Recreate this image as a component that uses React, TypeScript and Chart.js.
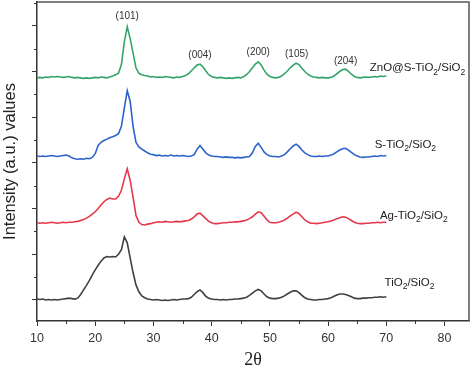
import React, { useEffect, useRef } from "react";
import { Chart, registerables } from "chart.js";

Chart.register(...registerables);

// 2θ sampling positions (degrees)
const twoTheta: number[] = [
  10, 10.5, 11, 11.5, 12, 12.5, 13, 13.5, 14, 14.5,
  15, 15.5, 16, 16.5, 17, 17.5, 18, 18.5, 19, 19.5,
  20, 20.5, 21, 21.5, 22, 22.5, 23, 23.5, 24, 24.5,
  25, 25.5, 26, 26.5, 27, 27.5, 28, 28.5, 29, 29.5,
  30, 30.5, 31, 31.5, 32, 32.5, 33, 33.5, 34, 34.5,
  35, 35.5, 36, 36.5, 37, 37.5, 38, 38.5, 39, 39.5,
  40, 40.5, 41, 41.5, 42, 42.5, 43, 43.5, 44, 44.5,
  45, 45.5, 46, 46.5, 47, 47.5, 48, 48.5, 49, 49.5,
  50, 50.5, 51, 51.5, 52, 52.5, 53, 53.5, 54, 54.5,
  55, 55.5, 56, 56.5, 57, 57.5, 58, 58.5, 59, 59.5,
  60, 60.5, 61, 61.5, 62, 62.5, 63, 63.5, 64, 64.5,
  65, 65.5, 66, 66.5, 67, 67.5, 68, 68.5, 69, 69.5,
  70,
];

// ZnO@S-TiO2/SiO2 (offset stacked)
const znoSTiO2: number[] = [
  4.86, 4.87, 4.86, 4.88, 4.87, 4.89, 4.88, 4.89, 4.88, 4.87,
  4.88, 4.89, 4.87, 4.86, 4.87, 4.86, 4.85, 4.86, 4.85, 4.86,
  4.87, 4.86, 4.88, 4.87, 4.86, 4.88, 4.90, 4.93, 4.96, 5.15,
  5.65, 5.98, 5.72, 5.40, 5.08, 4.96, 4.93, 4.91, 4.90, 4.88,
  4.89, 4.87, 4.88, 4.87, 4.89, 4.88, 4.87, 4.86, 4.88, 4.87,
  4.89, 4.91, 4.95, 5.01, 5.08, 5.14, 5.16, 5.10, 5.01, 4.93,
  4.89, 4.87, 4.86, 4.87, 4.86, 4.85, 4.86, 4.85, 4.86, 4.87,
  4.86, 4.89, 4.93, 5.00, 5.08, 5.16, 5.21, 5.14, 5.03, 4.94,
  4.89, 4.87, 4.86, 4.87, 4.90, 4.95, 5.01, 5.08, 5.14, 5.18,
  5.15, 5.07, 5.00, 4.94, 4.90, 4.88, 4.87, 4.86, 4.87, 4.86,
  4.86, 4.87, 4.90, 4.95, 5.00, 5.04, 5.05, 5.00, 4.94, 4.89,
  4.87, 4.86, 4.87, 4.88, 4.87, 4.88, 4.89, 4.88, 4.90, 4.89,
  4.90,
];

// S-TiO2/SiO2
const sTiO2: number[] = [
  3.15, 3.14, 3.15, 3.14, 3.15, 3.16, 3.15, 3.14, 3.15, 3.16,
  3.17, 3.15, 3.11, 3.09, 3.08, 3.09, 3.08, 3.10, 3.09, 3.12,
  3.20, 3.38, 3.45, 3.49, 3.52, 3.55, 3.57, 3.60, 3.64, 3.80,
  4.20, 4.58, 4.35, 3.80, 3.45, 3.35, 3.30, 3.26, 3.22, 3.19,
  3.18, 3.16, 3.17, 3.15, 3.16, 3.15, 3.17, 3.15, 3.16, 3.15,
  3.16, 3.15, 3.14, 3.15, 3.18, 3.30, 3.38, 3.30, 3.22, 3.17,
  3.15, 3.14, 3.14, 3.13, 3.12, 3.13, 3.12, 3.12, 3.11, 3.12,
  3.11, 3.12, 3.13, 3.14, 3.22, 3.36, 3.43, 3.34, 3.24, 3.18,
  3.15, 3.14, 3.14, 3.13, 3.15, 3.18, 3.24, 3.31, 3.37, 3.41,
  3.36, 3.28, 3.22, 3.18, 3.15, 3.14, 3.14, 3.15, 3.14, 3.15,
  3.15, 3.17, 3.20, 3.24, 3.28, 3.31, 3.32, 3.28, 3.23, 3.18,
  3.15, 3.13, 3.12, 3.13, 3.13, 3.14, 3.15, 3.14, 3.16, 3.15,
  3.16,
];

// Ag-TiO2/SiO2
const agTiO2: number[] = [
  1.69, 1.68, 1.69, 1.68, 1.69, 1.70, 1.69, 1.68, 1.69, 1.70,
  1.69, 1.70, 1.70, 1.71, 1.72, 1.74, 1.76, 1.79, 1.83, 1.88,
  1.93, 2.00, 2.08, 2.15, 2.20, 2.23, 2.21, 2.21, 2.27, 2.40,
  2.65, 2.87, 2.62, 2.25, 1.85, 1.70, 1.65, 1.64, 1.66, 1.67,
  1.69, 1.70, 1.71, 1.70, 1.72, 1.71, 1.70, 1.71, 1.72, 1.71,
  1.72, 1.73, 1.74, 1.77, 1.82, 1.88, 1.90, 1.84, 1.78, 1.72,
  1.69, 1.67, 1.67, 1.68, 1.69, 1.69, 1.70, 1.70, 1.71, 1.71,
  1.72, 1.73, 1.75, 1.78, 1.82, 1.88, 1.93, 1.91, 1.83, 1.75,
  1.70, 1.69, 1.69, 1.70, 1.72, 1.75, 1.79, 1.84, 1.88, 1.92,
  1.89, 1.82, 1.75, 1.71, 1.68, 1.68, 1.67, 1.68, 1.69, 1.70,
  1.71, 1.73, 1.75, 1.78, 1.80, 1.82, 1.81, 1.78, 1.74, 1.70,
  1.68, 1.67, 1.67, 1.68, 1.68, 1.69, 1.69, 1.70, 1.69, 1.70,
  1.70,
];

// TiO2/SiO2
const tiO2: number[] = [
  0.02, 0.01, 0.02, 0.00, 0.01, 0.00, 0.01, 0.00, 0.01, 0.02,
  0.03, 0.04, 0.03, 0.02, 0.04, 0.12, 0.22, 0.32, 0.43, 0.55,
  0.66, 0.76, 0.85, 0.92, 0.95, 0.94, 0.95, 0.94, 1.00, 1.10,
  1.38, 1.25, 0.92, 0.60, 0.33, 0.18, 0.09, 0.05, 0.02, 0.01,
  0.00, 0.01, 0.00, -0.01, 0.00, -0.01, 0.00, 0.01, 0.00, 0.01,
  0.02, 0.02, 0.03, 0.06, 0.12, 0.18, 0.22, 0.16, 0.08, 0.04,
  0.02, 0.01, 0.01, 0.00, 0.01, 0.00, 0.01, 0.01, 0.02, 0.02,
  0.03, 0.04, 0.06, 0.10, 0.15, 0.20, 0.23, 0.20, 0.13, 0.07,
  0.04, 0.03, 0.03, 0.04, 0.06, 0.09, 0.13, 0.17, 0.20, 0.20,
  0.16, 0.10, 0.05, 0.02, 0.01, 0.00, 0.00, 0.01, 0.01, 0.02,
  0.03, 0.05, 0.08, 0.11, 0.13, 0.13, 0.12, 0.10, 0.07, 0.04,
  0.03, 0.03, 0.04, 0.04, 0.05, 0.05, 0.06, 0.06, 0.07, 0.06,
  0.07,
];

const seriesNames: string[] = [
  "ZnO@S-TiO_2/SiO_2",
  "S-TiO_2/SiO_2",
  "Ag-TiO_2/SiO_2",
  "TiO_2/SiO_2",
];
const seriesValues: number[][] = [znoSTiO2, sTiO2, agTiO2, tiO2];
const seriesColors: string[] = ["#35a46a", "#2d62cc", "#e5394b", "#404040"];
// where each series label sits (2θ, intensity)
const seriesLabelX: number[] = [67.15, 68.0, 68.9, 69.7];
const seriesLabelY: number[] = [5.07, 3.39, 1.85, 0.37];

// Miller index annotations
const peakLabels: string[] = ["(101)", "(004)", "(200)", "(105)", "(204)"];
const peakLabelX: number[] = [25.5, 38.0, 48.0, 54.6, 63.0];
const peakLabelY: number[] = [6.2, 5.36, 5.42, 5.38, 5.22];

const xMajorTicks: number[] = [10, 20, 30, 40, 50, 60, 70, 80];
const xMinorTicks: number[] = [15, 25, 35, 45, 55, 65, 75];
const yMinorTicks: number[] = [0.5, 1.5, 2.5, 3.5, 4.5, 5.5, 6.5];

const SANS = 'Arial, "Liberation Sans", Helvetica, sans-serif';

function splitSub(s: string): { t: string; sub: boolean }[] {
  const parts: { t: string; sub: boolean }[] = [];
  let buf = "";
  for (let i = 0; i < s.length; i++) {
    if (s[i] === "_" && i + 1 < s.length) {
      if (buf) parts.push({ t: buf, sub: false });
      buf = "";
      parts.push({ t: s[i + 1], sub: true });
      i++;
    } else buf += s[i];
  }
  if (buf) parts.push({ t: buf, sub: false });
  return parts;
}

const decorPlugin = {
  id: "decor",
  afterDatasetsDraw(chart: any) {
    const { ctx, chartArea, scales } = chart;
    const xs = scales.x;
    const ys = scales.y;
    ctx.save();
    // top and right frame
    ctx.strokeStyle = "#555";
    ctx.lineWidth = 1.5;
    ctx.beginPath();
    ctx.moveTo(chartArea.left, chartArea.top);
    ctx.lineTo(chartArea.right, chartArea.top);
    ctx.lineTo(chartArea.right, chartArea.bottom);
    ctx.stroke();

    // minor ticks
    ctx.strokeStyle = "#333";
    ctx.lineWidth = 1;
    ctx.beginPath();
    xMinorTicks.forEach((v) => {
      const px = Math.round(xs.getPixelForValue(v)) + 0.5;
      ctx.moveTo(px, chartArea.bottom);
      ctx.lineTo(px, chartArea.bottom + 3);
    });
    yMinorTicks.forEach((v) => {
      const py = Math.round(ys.getPixelForValue(v)) + 0.5;
      if (py < chartArea.top || py > chartArea.bottom) return;
      ctx.moveTo(chartArea.left, py);
      ctx.lineTo(chartArea.left - 3, py);
    });
    ctx.stroke();

    // Miller indices
    ctx.fillStyle = "#333";
    ctx.font = `10px ${SANS}`;
    ctx.textAlign = "center";
    ctx.textBaseline = "middle";
    peakLabels.forEach((t, i) => {
      ctx.fillText(t, xs.getPixelForValue(peakLabelX[i]), ys.getPixelForValue(peakLabelY[i]));
    });

    // series labels with subscripts
    ctx.textAlign = "left";
    ctx.fillStyle = "#222";
    seriesNames.forEach((name, i) => {
      let px = xs.getPixelForValue(seriesLabelX[i]);
      const py = ys.getPixelForValue(seriesLabelY[i]);
      splitSub(name).forEach((p) => {
        ctx.font = p.sub ? `8.5px ${SANS}` : `11.5px ${SANS}`;
        ctx.fillText(p.t, px, p.sub ? py + 4 : py);
        px += ctx.measureText(p.t).width;
      });
    });
    ctx.restore();
  },
};

export default function App() {
  const canvasRef = useRef<HTMLCanvasElement | null>(null);

  useEffect(() => {
    document.body.style.margin = "0";
    const canvas = canvasRef.current;
    if (!canvas) return;
    const datasets = seriesValues.map((vals, i) => ({
      label: seriesNames[i],
      data: twoTheta.map((x, j) => ({ x, y: vals[j] })),
      borderColor: seriesColors[i],
      backgroundColor: seriesColors[i],
      borderWidth: 1.6,
      pointRadius: 0,
      tension: 0,
      fill: false,
    }));
    const chart = new Chart(canvas, {
      type: "line",
      data: { datasets },
      plugins: [decorPlugin],
      options: {
        animation: false,
        responsive: false,
        maintainAspectRatio: false,
        layout: { padding: { top: 2, right: 5, left: 0, bottom: 0 } },
        plugins: {
          legend: { display: false },
          tooltip: { enabled: false },
        },
        scales: {
          x: {
            type: "linear",
            min: 10,
            max: 84.2,
            afterFit: (scale: any) => {
              scale.height = 47;
            },
            afterBuildTicks: (scale: any) => {
              scale.ticks = xMajorTicks.map((v) => ({ value: v }));
            },
            ticks: {
              stepSize: 10,
              includeBounds: false,
              color: "#333",
              padding: 5,
              font: { family: SANS, size: 12.5 },
              maxRotation: 0,
            },
            grid: {
              display: true,
              drawOnChartArea: false,
              drawTicks: true,
              tickLength: 5,
              color: "#333",
              lineWidth: 1,
            },
            border: { display: true, color: "#333", width: 1.5 },
            title: {
              display: true,
              text: "2θ",
              color: "#222",
              font: { family: '"Liberation Serif", "Times New Roman", serif', size: 18, lineHeight: 0.9 },
              padding: { top: 0, bottom: 0 },
            },
          },
          y: {
            type: "linear",
            min: -0.46,
            max: 6.52,
            afterFit: (scale: any) => {
              scale.width = 37;
            },
            ticks: {
              stepSize: 1,
              includeBounds: false,
              display: false,
            },
            grid: {
              display: true,
              drawOnChartArea: false,
              drawTicks: true,
              tickLength: 5,
              color: "#333",
              lineWidth: 1,
            },
            border: { display: true, color: "#333", width: 1.5 },
            title: {
              display: true,
              text: "Intensity (a.u.) values",
              color: "#222",
              font: { family: SANS, size: 16.5, lineHeight: 1.2 },
              padding: { top: 0.5, bottom: 0 },
            },
          },
        },
      },
    });
    return () => chart.destroy();
  }, []);

  return (
    <div style={{ width: 474, height: 368 }}>
      <canvas ref={canvasRef} width={474} height={368} />
    </div>
  );
}
